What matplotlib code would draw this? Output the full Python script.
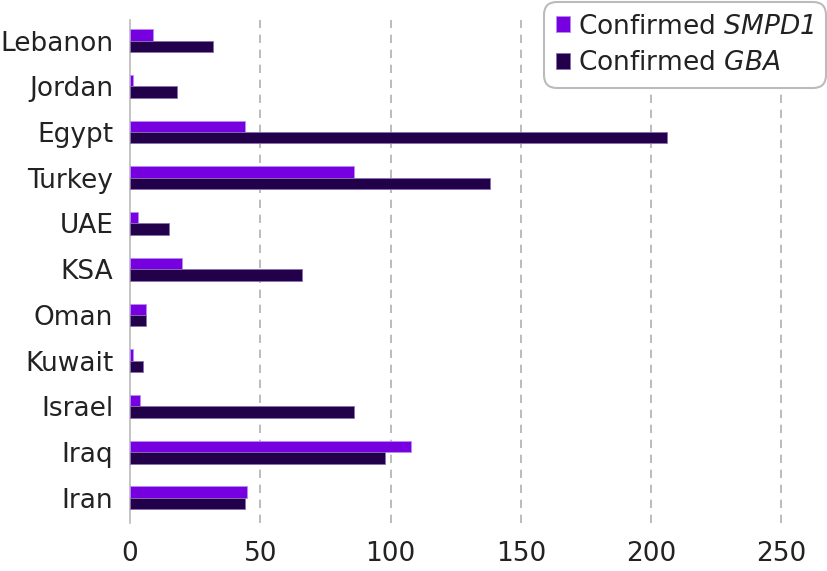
import matplotlib.pyplot as plt
import numpy as np

# countries from top to bottom as shown
countries = ['Lebanon', 'Jordan', 'Egypt', 'Turkey', 'UAE', 'KSA',
             'Oman', 'Kuwait', 'Israel', 'Iraq', 'Iran']
smpd1 = [9, 1, 44, 86, 3, 20, 6, 1, 4, 108, 45]
gba = [32, 18, 206, 138, 15, 66, 6, 5, 86, 98, 44]
x_ticks = [0, 50, 100, 150, 200, 250]

plt.rcParams['font.family'] = ['DejaVu Sans']
# italic gene names (digits too)
plt.rcParams['mathtext.fontset'] = 'custom'
plt.rcParams['mathtext.rm'] = 'DejaVu Sans:italic'
plt.rcParams['mathtext.it'] = 'DejaVu Sans:italic'

txt_color = '#222222'

fig = plt.figure(figsize=(8.28, 5.71), dpi=100)
ax = fig.add_axes([0.157, 0.084, 0.834, 0.881])

y = np.arange(len(countries))[::-1]
h = 0.25
ax.barh(y + h / 2, smpd1, height=h, color='#7700E0', edgecolor='#B98CF0',
        linewidth=0.6, label='Confirmed $\\mathit{SMPD1}$', zorder=3)
ax.barh(y - h / 2, gba, height=h, color='#22004A', edgecolor='#8A70B0',
        linewidth=0.6, label='Confirmed $\\mathit{GBA}$', zorder=3)

ax.set_yticks(y)
ax.set_yticklabels(countries, fontsize=19, color=txt_color)
ax.set_xticks(x_ticks)
ax.set_xticklabels([str(t) for t in x_ticks], fontsize=19, color=txt_color)
ax.set_xlim(0, 265)
ax.set_ylim(-0.55, 10.45)
ax.tick_params(axis='y', length=0, pad=12)
ax.tick_params(axis='x', length=0, pad=13)

ax.grid(axis='x', linestyle=(0, (5, 4)), color='#b0b0b0', linewidth=1.2, zorder=0)
ax.xaxis.get_gridlines()[0].set_visible(False)

for side in ['top', 'right', 'bottom']:
    ax.spines[side].set_visible(False)
ax.spines['left'].set_color('#bbbbbb')
ax.spines['left'].set_linewidth(1.2)

leg = ax.legend(loc='upper right', bbox_to_anchor=(0.998, 0.997),
                bbox_transform=fig.transFigure, borderaxespad=0, fontsize=19,
                handlelength=0.55, handleheight=0.55, handletextpad=0.3,
                labelspacing=0.4, borderpad=0.45, fancybox=True, framealpha=1)
leg.get_frame().set_edgecolor('#bbbbbb')
leg.get_frame().set_linewidth(1.5)
leg.get_frame().set_boxstyle('round', pad=0, rounding_size=0.5)
for t in leg.get_texts():
    t.set_color(txt_color)

fig.savefig('out.png', dpi=100)
